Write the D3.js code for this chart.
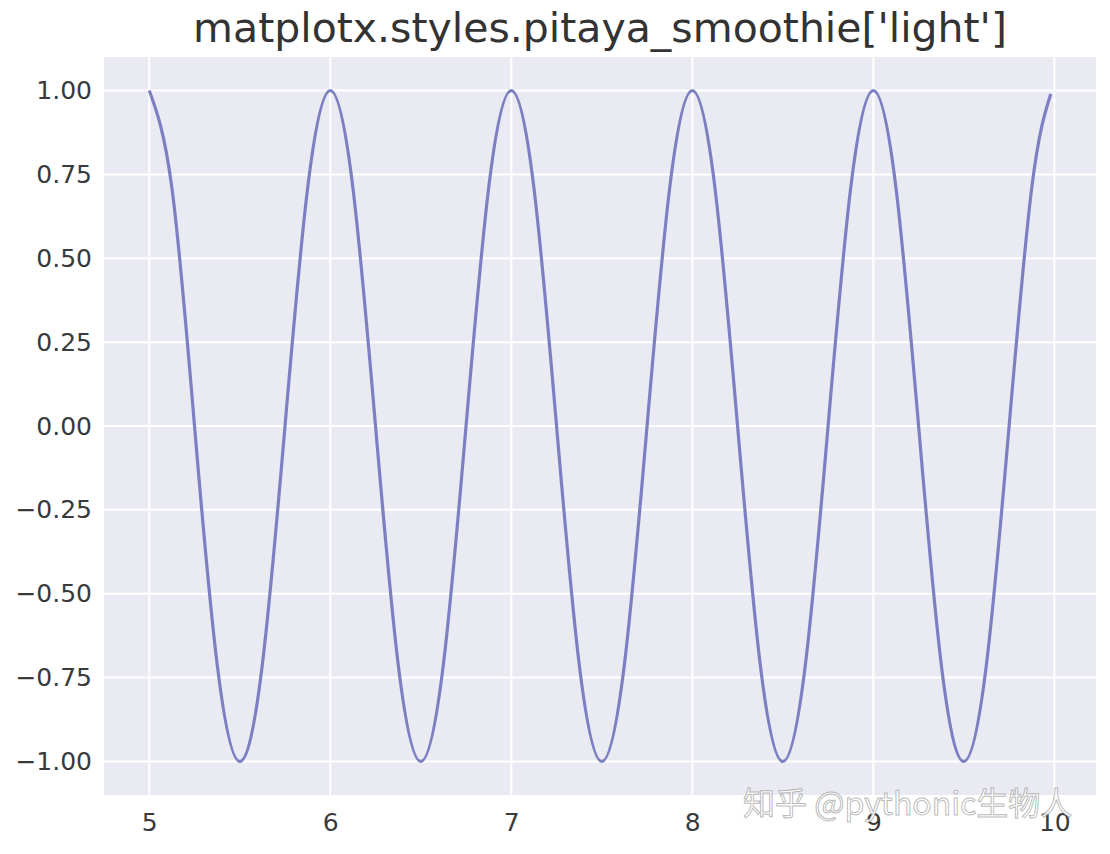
<!DOCTYPE html>
<html>
  <head>
    <meta charset="utf-8">
    <title>pitaya_smoothie light</title>
    <script type="text/javascript" src="https://d3js.org/d3.v7.min.js"></script>
    <style>
      body { margin: 0; background: #ffffff; }
      text { font-family: "DejaVu Sans", sans-serif; }
    </style>
  </head>
  <body>
    <div id="chart"></div>
    <script type="text/javascript">
        // values (peaks, troughs, crossings and halfway points)
        var xValues = [5, 5.125, 5.25, 5.375, 5.5, 5.625, 5.75, 5.875,
                       6, 6.125, 6.25, 6.375, 6.5, 6.625, 6.75, 6.875,
                       7, 7.125, 7.25, 7.375, 7.5, 7.625, 7.75, 7.875,
                       8, 8.125, 8.25, 8.375, 8.5, 8.625, 8.75, 8.875,
                       9, 9.125, 9.25, 9.375, 9.5, 9.625, 9.75, 9.875, 9.98];
        var yValues = [1, 0.71, 0, -0.71, -1, -0.71, 0, 0.71,
                       1, 0.71, 0, -0.71, -1, -0.71, 0, 0.71,
                       1, 0.71, 0, -0.71, -1, -0.71, 0, 0.71,
                       1, 0.71, 0, -0.71, -1, -0.71, 0, 0.71,
                       1, 0.71, 0, -0.71, -1, -0.71, 0, 0.71, 0.99];
        var xTicks = [5, 6, 7, 8, 9, 10];
        var yTicks = [-1, -0.75, -0.5, -0.25, 0, 0.25, 0.5, 0.75, 1];
        var title = "matplotx.styles.pitaya_smoothie['light']";

        var width = 1110, height = 854;
        var margin = {top: 57, right: 14, bottom: 59, left: 104};

        var svg = d3.select("#chart").append("svg")
            .attr("width", width)
            .attr("height", height);

        var x = d3.scaleLinear()
            .domain([4.75, 10.23])
            .range([margin.left, width - margin.right]);
        var y = d3.scaleLinear()
            .domain([-1.1, 1.1])
            .range([height - margin.bottom, margin.top]);

        svg.append("rect")
            .attr("x", margin.left)
            .attr("y", margin.top)
            .attr("width", width - margin.left - margin.right)
            .attr("height", height - margin.top - margin.bottom)
            .style("fill", "#eaeaf2");

        // grid
        svg.append("g").selectAll("line")
            .data(xTicks).enter().append("line")
                .attr("x1", function(d){ return x(d); })
                .attr("x2", function(d){ return x(d); })
                .attr("y1", margin.top)
                .attr("y2", height - margin.bottom)
                .style("stroke", "#ffffff")
                .style("stroke-width", 2);
        svg.append("g").selectAll("line")
            .data(yTicks).enter().append("line")
                .attr("x1", margin.left)
                .attr("x2", width - margin.right)
                .attr("y1", function(d){ return y(d); })
                .attr("y2", function(d){ return y(d); })
                .style("stroke", "#ffffff")
                .style("stroke-width", 2);

        // axes (labels only)
        var fmt = function(d){ return d3.format(".2f")(d).replace("-", "\u2212"); };
        var xAxis = svg.append("g")
            .attr("transform", "translate(0," + (height - margin.bottom) + ")")
            .call(d3.axisBottom(x).tickValues(xTicks).tickSize(0).tickPadding(18).tickFormat(d3.format("d")));
        var yAxis = svg.append("g")
            .attr("transform", "translate(" + margin.left + ",0)")
            .call(d3.axisLeft(y).tickValues(yTicks).tickSize(0).tickPadding(12).tickFormat(fmt));
        [xAxis, yAxis].forEach(function(a){
            a.select(".domain").remove();
            a.selectAll("text")
                .style("font-family", "DejaVu Sans, sans-serif")
                .style("font-size", "25px")
                .style("fill", "#3a3a3a");
        });

        // curve
        var line = d3.line()
            .x(function(d){ return x(d[0]); })
            .y(function(d){ return y(d[1]); })
            .curve(d3.curveNatural);
        svg.append("path")
            .datum(d3.zip(xValues, yValues))
            .attr("d", line)
            .style("fill", "none")
            .style("stroke", "#7c80c2")
            .style("stroke-width", 3.2);

        svg.append("text")
            .attr("x", (margin.left + width - margin.right) / 2)
            .attr("y", 42)
            .attr("text-anchor", "middle")
            .style("font-size", "41px")
            .style("fill", "#333333")
            .text(title);

        // watermark
        svg.append("text")
            .attr("x", 743)
            .attr("y", 815)
            .style("font-family", "Noto Sans CJK SC, sans-serif")
            .style("font-size", "32px")
            .style("fill", "#ffffff")
            .style("fill-opacity", 0.85)
            .style("stroke", "#8a8a8a")
            .style("stroke-width", 1)
            .style("stroke-opacity", 0.6)
            .text("知乎 @pythonic生物人");
    </script>
  </body>
</html>
